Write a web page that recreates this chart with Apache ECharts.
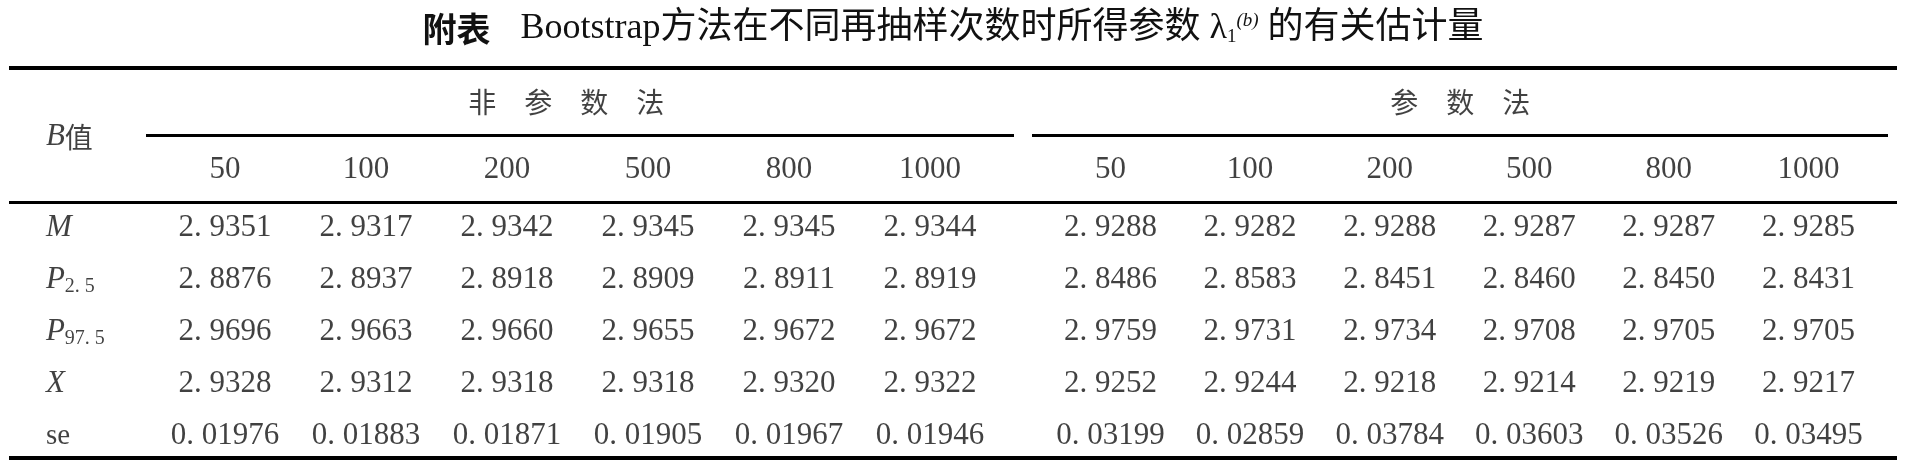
<!DOCTYPE html>
<html><head><meta charset="utf-8">
<script src="https://cdn.jsdelivr.net/npm/echarts@6/dist/echarts.min.js"></script>
<style>html,body{margin:0;background:#fff}#c{width:1906px;height:468px}</style>
</head><body><div id="c"></div>
<script>
const bValues = ['50','100','200','500','800','1000'];
const groups = ['非　参　数　法','参　数　法'];
const rowLabels = ['{i|M}','{i|P}{s|2. 5}','{i|P}{s|97. 5}','{i|X}','{n|se}'];
const nonParam = [
  ['2. 9351','2. 9317','2. 9342','2. 9345','2. 9345','2. 9344'],
  ['2. 8876','2. 8937','2. 8918','2. 8909','2. 8911','2. 8919'],
  ['2. 9696','2. 9663','2. 9660','2. 9655','2. 9672','2. 9672'],
  ['2. 9328','2. 9312','2. 9318','2. 9318','2. 9320','2. 9322'],
  ['0. 01976','0. 01883','0. 01871','0. 01905','0. 01967','0. 01946']
];
const param = [
  ['2. 9288','2. 9282','2. 9288','2. 9287','2. 9287','2. 9285'],
  ['2. 8486','2. 8583','2. 8451','2. 8460','2. 8450','2. 8431'],
  ['2. 9759','2. 9731','2. 9734','2. 9708','2. 9705','2. 9705'],
  ['2. 9252','2. 9244','2. 9218','2. 9214','2. 9219','2. 9217'],
  ['0. 03199','0. 02859','0. 03784','0. 03603','0. 03526','0. 03495']
];

const F = 'Liberation Serif, Times New Roman, serif';
const colX = (g, j) => g === 0 ? j : 6.28 + 0.99 * j;
const cells = [];
[nonParam, param].forEach((tbl, g) => tbl.forEach((row, r) => row.forEach((v, j) => cells.push([colX(g, j), r, v]))));
const heads = [];
[0, 1].forEach(g => bValues.forEach((b, j) => heads.push([colX(g, j), -1.12, b])));
const grpData = [[2.42, -2.42, groups[0]], [8.76, -2.42, groups[1]]];
const rowData = rowLabels.map((l, r) => [-1.27, r, l]);
rowData.push([-1.27, -1.75, '{i|B}{c|值}']);

const chart = echarts.init(document.getElementById('c'));
const lbl = (extra) => Object.assign({show: true, formatter: p => p.data[2], color: '#111', fontFamily: F, fontSize: 31}, extra);
chart.setOption({
  animation: false,
  title: {
    text: '{h|附表}      {t|Bootstrap方法在不同再抽样次数时所得参数 λ}{sub|1}{sup|(b)}{t| 的有关估计量}',
    left: 'center', top: 6,
    textStyle: {fontWeight: 'normal', rich: {
      h: {fontFamily: 'Noto Sans CJK SC', fontWeight: 'bold', fontSize: 34, color: '#111'},
      t: {fontFamily: 'Liberation Serif, Noto Sans CJK SC', fontWeight: 'normal', fontSize: 36, color: '#111'},
      sub: {fontFamily: F, fontSize: 19, color: '#111', verticalAlign: 'bottom', padding: [16, 0, 0, 0]},
      sup: {fontFamily: F, fontStyle: 'italic', fontSize: 19, color: '#111', verticalAlign: 'top', padding: [0, 0, 14, 0]}
    }}
  },
  grid: {left: 0, right: 0, top: 0, bottom: 0},
  xAxis: {type: 'value', min: -225 / 141, max: (1906 - 225) / 141, show: false},
  yAxis: {type: 'value', inverse: true, min: -228 / 52, max: 240 / 52, show: false},
  series: [
    {type: 'scatter', symbolSize: 0, data: cells, label: lbl({position: 'inside'})},
    {type: 'scatter', symbolSize: 0, data: heads, label: lbl({position: 'inside'})},
    {type: 'scatter', symbolSize: 0, data: grpData, label: lbl({position: 'inside', fontFamily: 'Noto Sans CJK SC', fontSize: 28})},
    {type: 'scatter', symbolSize: 0, data: rowData, label: lbl({position: 'right', distance: 0,
      rich: {
        i: {fontFamily: F, fontStyle: 'italic', fontSize: 31, color: '#111'},
        n: {fontFamily: F, fontSize: 29, color: '#111'},
        c: {fontFamily: 'Noto Sans CJK SC', fontSize: 28, color: '#111'},
        s: {fontFamily: F, fontSize: 20, color: '#111', verticalAlign: 'bottom', padding: [14, 0, 0, 0]}
      }})}
  ],
  graphic: [
    {type: 'rect', shape: {x: 9, y: 66, width: 1888, height: 4}, style: {fill: '#000'}},
    {type: 'rect', shape: {x: 146, y: 134, width: 868, height: 3}, style: {fill: '#000'}},
    {type: 'rect', shape: {x: 1032, y: 134, width: 856, height: 3}, style: {fill: '#000'}},
    {type: 'rect', shape: {x: 9, y: 201, width: 1888, height: 3}, style: {fill: '#000'}},
    {type: 'rect', shape: {x: 9, y: 456, width: 1888, height: 4}, style: {fill: '#000'}}
  ]
});
</script></body></html>
